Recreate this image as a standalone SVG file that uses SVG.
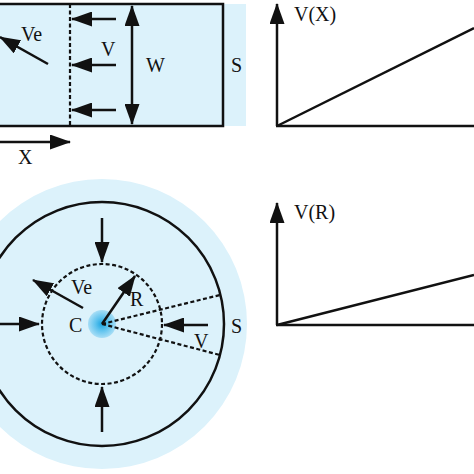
<svg xmlns="http://www.w3.org/2000/svg" width="474" height="474" viewBox="0 0 474 474">
<style>
text{font-family:"Liberation Serif","Times New Roman",serif;font-size:20px;fill:#111}
.ln{stroke:#111;stroke-width:2.5;fill:none}
.ar{stroke:#111;stroke-width:2.5;fill:none;marker-end:url(#ah)}
.dash{stroke:#111;stroke-width:2.2;fill:none;stroke-dasharray:4 2.5}
</style>
<defs>
<marker id="ah" viewBox="0 0 21 15" refX="20" refY="7.5" markerWidth="21" markerHeight="15" markerUnits="userSpaceOnUse" orient="auto-start-reverse">
<path d="M0,0 L21,7.5 L0,15 z" fill="#111"/>
</marker>
<radialGradient id="glow">
<stop offset="0" stop-color="#1aa3e0"/>
<stop offset="0.45" stop-color="#5cc2ee"/>
<stop offset="1" stop-color="#a8def6"/>
</radialGradient>
</defs>
<rect width="474" height="474" fill="#fff"/>
<g id="rect-domain">
<rect x="-10" y="4" width="256" height="122" fill="#dcf2fb"/>
<rect x="-10" y="4" width="233" height="122" class="ln"/>
<line x1="70" y1="4" x2="70" y2="126" class="dash"/>
<text x="21" y="41">Ve</text>
<text x="101" y="56">V</text>
<text x="146" y="72">W</text>
<text x="231" y="72">S</text>
<text x="18" y="164">X</text>
</g>
<g id="graph-x">
<text x="294" y="21">V(X)</text>
</g>
<g id="circle-domain">
<circle cx="102" cy="324" r="145" fill="#dcf2fb"/>
<circle cx="102" cy="324" r="122" class="ln"/>
<circle cx="102" cy="324" r="60" class="dash"/>
<circle cx="102" cy="324" r="14" fill="url(#glow)"/>
<text x="69" y="332">C</text>
<text x="71" y="294">Ve</text>
<text x="130" y="306">R</text>
<text x="194" y="348">V</text>
<text x="231" y="333">S</text>
</g>
<g id="graph-r">
<text x="294" y="219">V(R)</text>
</g>
<g id="connectors">
<line x1="116" y1="19" x2="72" y2="19" class="ar"/>
<line x1="116" y1="65" x2="72" y2="65" class="ar"/>
<line x1="116" y1="110" x2="72" y2="110" class="ar"/>
<line x1="132" y1="6" x2="132" y2="124" class="ar" style="marker-start:url(#ah)"/>
<line x1="48" y1="64" x2="0" y2="37" class="ar"/>
<line x1="0" y1="142" x2="70" y2="142" class="ar"/>
<line x1="277" y1="126" x2="277" y2="4" class="ar"/>
<line x1="276" y1="126" x2="474" y2="126" class="ln"/>
<line x1="277" y1="126" x2="474" y2="28" class="ln"/>
<line x1="102" y1="218" x2="102" y2="262" class="ar"/>
<line x1="102" y1="432" x2="102" y2="387" class="ar"/>
<line x1="0" y1="324" x2="39" y2="324" class="ar"/>
<line x1="208" y1="325" x2="164" y2="325" class="ar"/>
<line x1="102" y1="324" x2="135" y2="276" class="ar"/>
<line x1="83" y1="308" x2="33" y2="280" class="ar"/>
<line x1="102" y1="324" x2="220" y2="295" class="dash"/>
<line x1="102" y1="324" x2="220" y2="355" class="dash"/>
<line x1="277" y1="325" x2="277" y2="203" class="ar"/>
<line x1="276" y1="325" x2="474" y2="325" class="ln"/>
<line x1="277" y1="325" x2="474" y2="275" class="ln"/>
</g>
</svg>
